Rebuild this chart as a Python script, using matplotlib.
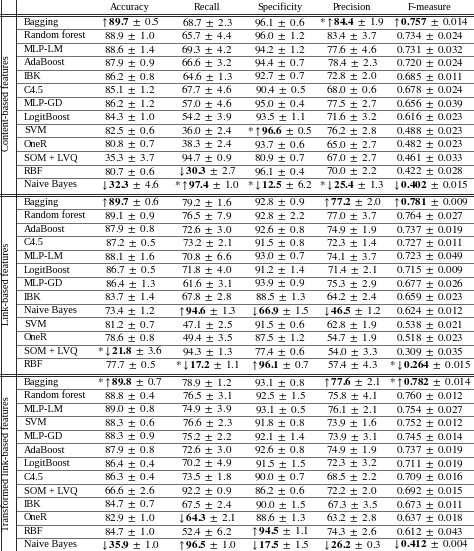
import matplotlib
matplotlib.use("Agg")
import matplotlib.pyplot as plt

plt.rcParams['mathtext.fontset'] = 'stix'
plt.rcParams['font.family'] = ['Liberation Serif', 'DejaVu Serif']

columns = ["Accuracy", "Recall", "Specificity", "Precision", "F-measure"]
groups = ["Content-based features", "Link-based features", "Transformed link-based features"]

names_content = ["Bagging", "Random forest", "MLP-LM", "AdaBoost", "IBK", "C4.5", "MLP-GD",
                 "LogitBoost", "SVM", "OneR", "SOM + LVQ", "RBF", "Naive Bayes"]
acc_content = ["↑89.7 ± 0.5", "88.9 ± 1.0", "88.6 ± 1.4", "87.9 ± 0.9", "86.2 ± 0.8", "85.1 ± 1.2",
               "86.2 ± 1.2", "84.3 ± 1.0", "82.5 ± 0.6", "80.8 ± 0.7", "35.3 ± 3.7", "80.7 ± 0.6", "↓32.3 ± 4.6"]
rec_content = ["68.7 ± 2.3", "65.7 ± 4.4", "69.3 ± 4.2", "66.6 ± 3.2", "64.6 ± 1.3", "67.7 ± 4.6",
               "57.0 ± 4.6", "54.2 ± 3.9", "36.0 ± 2.4", "38.3 ± 2.4", "94.7 ± 0.9", "↓30.3 ± 2.7", "*↑97.4 ± 1.0"]
spe_content = ["96.1 ± 0.6", "96.0 ± 1.2", "94.2 ± 1.2", "94.4 ± 0.7", "92.7 ± 0.7", "90.4 ± 0.5",
               "95.0 ± 0.4", "93.5 ± 1.1", "*↑96.6 ± 0.5", "93.7 ± 0.6", "80.9 ± 0.7", "96.1 ± 0.4", "*↓12.5 ± 6.2"]
pre_content = ["*↑84.4 ± 1.9", "83.4 ± 3.7", "77.6 ± 4.6", "78.4 ± 2.3", "72.8 ± 2.0", "68.0 ± 0.6",
               "77.5 ± 2.7", "71.6 ± 3.2", "76.2 ± 2.8", "65.0 ± 2.7", "67.0 ± 2.7", "70.0 ± 2.2", "*↓25.4 ± 1.3"]
f_content = ["↑0.757 ± 0.014", "0.734 ± 0.024", "0.731 ± 0.032", "0.720 ± 0.024", "0.685 ± 0.011",
             "0.678 ± 0.024", "0.656 ± 0.039", "0.616 ± 0.023", "0.488 ± 0.023", "0.482 ± 0.023",
             "0.461 ± 0.033", "0.422 ± 0.028", "↓0.402 ± 0.015"]

names_link = ["Bagging", "Random forest", "AdaBoost", "C4.5", "MLP-LM", "LogitBoost", "MLP-GD",
              "IBK", "Naive Bayes", "SVM", "OneR", "SOM + LVQ", "RBF"]
acc_link = ["↑89.7 ± 0.6", "89.1 ± 0.9", "87.9 ± 0.8", "87.2 ± 0.5", "88.1 ± 1.6", "86.7 ± 0.5",
            "86.4 ± 1.3", "83.7 ± 1.4", "73.4 ± 1.2", "81.2 ± 0.7", "78.6 ± 0.8", "*↓21.8 ± 3.6", "77.7 ± 0.5"]
rec_link = ["79.2 ± 1.6", "76.5 ± 7.9", "72.6 ± 3.0", "73.2 ± 2.1", "70.8 ± 6.6", "71.8 ± 4.0",
            "61.6 ± 3.1", "67.8 ± 2.8", "↑94.6 ± 1.3", "47.1 ± 2.5", "49.4 ± 3.5", "94.3 ± 1.3", "*↓17.2 ± 1.1"]
spe_link = ["92.8 ± 0.9", "92.8 ± 2.2", "92.6 ± 0.8", "91.5 ± 0.8", "93.0 ± 0.7", "91.2 ± 1.4",
            "93.9 ± 0.9", "88.5 ± 1.3", "↓66.9 ± 1.5", "91.5 ± 0.6", "87.5 ± 1.2", "77.4 ± 0.6", "↑96.1 ± 0.7"]
pre_link = ["↑77.2 ± 2.0", "77.0 ± 3.7", "74.9 ± 1.9", "72.3 ± 1.4", "74.1 ± 3.7", "71.4 ± 2.1",
            "75.3 ± 2.9", "64.2 ± 2.4", "↓46.5 ± 1.2", "62.8 ± 1.9", "54.7 ± 1.9", "54.0 ± 3.3", "57.4 ± 4.3"]
f_link = ["↑0.781 ± 0.009", "0.764 ± 0.027", "0.737 ± 0.019", "0.727 ± 0.011", "0.723 ± 0.049",
          "0.715 ± 0.009", "0.677 ± 0.026", "0.659 ± 0.023", "0.624 ± 0.012", "0.538 ± 0.021",
          "0.518 ± 0.023", "0.309 ± 0.035", "*↓0.264 ± 0.015"]

names_trans = ["Bagging", "Random forest", "MLP-LM", "SVM", "MLP-GD", "AdaBoost", "LogitBoost",
               "C4.5", "SOM + LVQ", "IBK", "OneR", "RBF", "Naive Bayes"]
acc_trans = ["*↑89.8 ± 0.7", "88.8 ± 0.4", "89.0 ± 0.8", "88.3 ± 0.6", "88.3 ± 0.9", "87.9 ± 0.8",
             "86.4 ± 0.4", "86.3 ± 0.4", "66.6 ± 2.6", "84.7 ± 0.7", "82.9 ± 1.0", "84.7 ± 1.0", "↓35.9 ± 1.0"]
rec_trans = ["78.9 ± 1.2", "76.5 ± 3.1", "74.9 ± 3.9", "76.6 ± 2.3", "75.2 ± 2.2", "72.6 ± 3.0",
             "70.2 ± 4.9", "73.5 ± 1.8", "92.2 ± 0.9", "67.5 ± 2.4", "↓64.3 ± 2.1", "52.4 ± 6.2", "↑96.5 ± 1.0"]
spe_trans = ["93.1 ± 0.8", "92.5 ± 1.5", "93.1 ± 0.5", "91.8 ± 0.8", "92.1 ± 1.4", "92.6 ± 0.8",
             "91.5 ± 1.5", "90.0 ± 0.7", "86.2 ± 0.6", "90.0 ± 1.5", "88.6 ± 1.3", "↑94.5 ± 1.1", "↓17.5 ± 1.5"]
pre_trans = ["↑77.6 ± 2.1", "75.8 ± 4.1", "76.1 ± 2.1", "73.9 ± 1.6", "73.9 ± 3.1", "74.9 ± 1.9",
             "72.3 ± 3.2", "68.5 ± 2.2", "72.2 ± 2.0", "67.3 ± 3.5", "63.2 ± 2.8", "74.3 ± 2.6", "↓26.2 ± 0.3"]
f_trans = ["*↑0.782 ± 0.014", "0.760 ± 0.012", "0.754 ± 0.027", "0.752 ± 0.012", "0.745 ± 0.014",
           "0.737 ± 0.019", "0.711 ± 0.019", "0.709 ± 0.016", "0.692 ± 0.015", "0.673 ± 0.011",
           "0.637 ± 0.018", "0.612 ± 0.043", "↓0.412 ± 0.004"]

group_names = [names_content, names_link, names_trans]
group_cells = [[acc_content, rec_content, spe_content, pre_content, f_content],
               [acc_link, rec_link, spe_link, pre_link, f_link],
               [acc_trans, rec_trans, spe_trans, pre_trans, f_trans]]


def to_math(cell):
    mean, sd = cell.split(" ± ")
    prefix = ""
    while mean and mean[0] in "*↑↓":
        c = mean[0]
        prefix += {"*": "{*}", "↑": r"\uparrow", "↓": r"\downarrow"}[c]
        mean = mean[1:]
    if prefix.replace("{*}", ""):
        body = r"\mathbf{" + mean + "}"
    else:
        body = r"\mathrm{" + mean + "}"
    return "$" + prefix + body + r"\ \pm\ \mathrm{" + sd + "}$"


W, H = 474, 551
fig = plt.figure(figsize=(W / 100, H / 100), dpi=100)
ax = fig.add_axes([0, 0, 1, 1])
ax.set_xlim(0, W)
ax.set_ylim(H, 0)
ax.axis("off")

fs = 7.5
fs_cell = 8.0
col_x = [130, 207, 280, 352, 430]
name_x = 24
pitch = 13.55
group_top = [15.5, 195.5, 375.5]

lw = 0.6
for cx, c in zip(col_x, columns):
    ax.text(cx, 7, c, ha="center", va="center", fontsize=fs)

ax.plot([16, 16], [0, H], color="black", lw=lw)
ax.plot([0.5, 0.5], [0, H], color="black", lw=lw)

for g in range(3):
    top = group_top[g]
    ax.plot([0, W], [top - 1.6, top - 1.6], color="black", lw=lw)
    ax.plot([0, W], [top, top], color="black", lw=lw)
    names = group_names[g]
    cells = group_cells[g]
    for i, nm in enumerate(names):
        yc = top + pitch * (i + 0.5)
        ax.text(name_x, yc, nm, ha="left", va="center", fontsize=fs)
        for j in range(5):
            ax.text(col_x[j], yc, to_math(cells[j][i]), ha="center", va="center", fontsize=fs_cell)
        if i < len(names) - 1:
            ax.plot([16, W], [top + pitch * (i + 1)] * 2, color="black", lw=0.4)
    ax.text(6.5, top + pitch * len(names) / 2, groups[g], rotation=90,
            ha="center", va="center", fontsize=fs)

fig.savefig("out.png", dpi=100)
